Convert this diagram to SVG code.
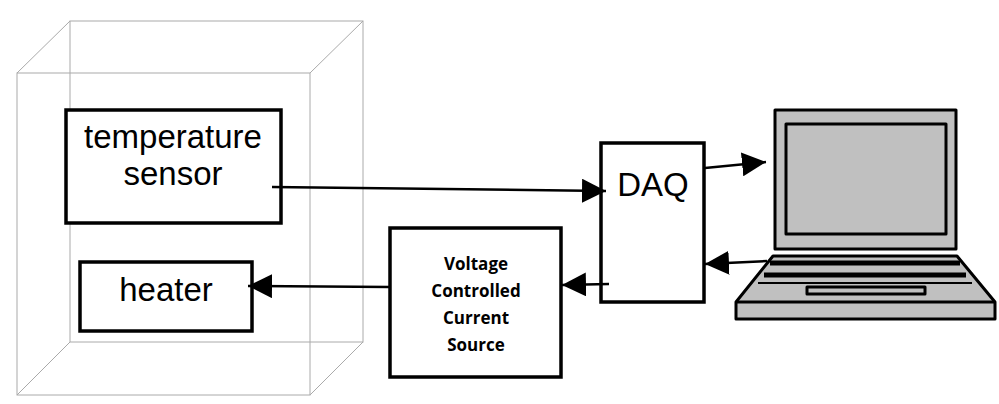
<svg xmlns="http://www.w3.org/2000/svg" width="999" height="404" viewBox="0 0 999 404">
<style>
.box{fill:#fff;stroke:#000;stroke-width:3.5}
.cube{fill:none;stroke:#aaa;stroke-width:1}
.t{font-family:"Liberation Sans",Arial,sans-serif;font-size:33px;text-anchor:middle}
.s{font-family:"Open Sans",sans-serif;font-weight:700;font-size:17px;text-anchor:middle}
.c{stroke:#000;stroke-width:2.5;fill:none}
.lp{fill:#c0c0c0;stroke:#000;stroke-width:3;stroke-linejoin:round}
</style>
<defs><marker id="ah" viewBox="0 0 10 10" refX="10" refY="5" markerWidth="24" markerHeight="24" markerUnits="userSpaceOnUse" orient="auto"><path d="M0,0L10,5L0,10z"/></marker></defs>
<g id="chamber" class="cube">
<rect x="17" y="73" width="293" height="322"/>
<rect x="70" y="21" width="293" height="321"/>
<path d="M17,73L70,21M310,73L363,21M17,395L70,342M310,395L363,342"/>
</g>
<g id="sensor"><rect class="box" x="66" y="110" width="215" height="113"/><text class="t" x="173" y="148">temperature</text><text class="t" x="173" y="185">sensor</text></g>
<g id="heater"><rect class="box" x="80" y="262" width="172" height="69"/><text class="t" x="166" y="301">heater</text></g>
<g id="vccs"><rect class="box" x="390" y="228" width="171" height="149"/>
<text class="s" x="476" y="270">Voltage</text><text class="s" x="476" y="297">Controlled</text><text class="s" x="476" y="324">Current</text><text class="s" x="476" y="351">Source</text></g>
<g id="daq"><rect class="box" x="601" y="143" width="103" height="159"/><text class="t" x="653" y="196">DAQ</text></g>
<g id="laptop">
<rect class="lp" x="775" y="110" width="181" height="139"/>
<rect class="lp" x="786" y="124" width="160" height="110"/>
<path class="lp" d="M773,256L957,256L995,302L995,319L736,319L736,302Z"/>
<path class="c" style="stroke-width:3" d="M736,302L995,302"/>
<path class="c" style="stroke-width:5" d="M770,263L960,263M764,275L966,275"/>
<path class="c" style="stroke-width:2" d="M758,283L972,283"/>
<rect class="lp" x="807" y="287" width="118" height="7"/>
</g>
<g id="connectors">
<path class="c" marker-end="url(#ah)" d="M272,187L606,191"/>
<path class="c" marker-end="url(#ah)" d="M705,168L766,162"/>
<path class="c" marker-end="url(#ah)" d="M767,261L705,264"/>
<path class="c" marker-end="url(#ah)" d="M609,284L562,285"/>
<path class="c" marker-end="url(#ah)" d="M390,287L248,286"/>
</g>
</svg>
